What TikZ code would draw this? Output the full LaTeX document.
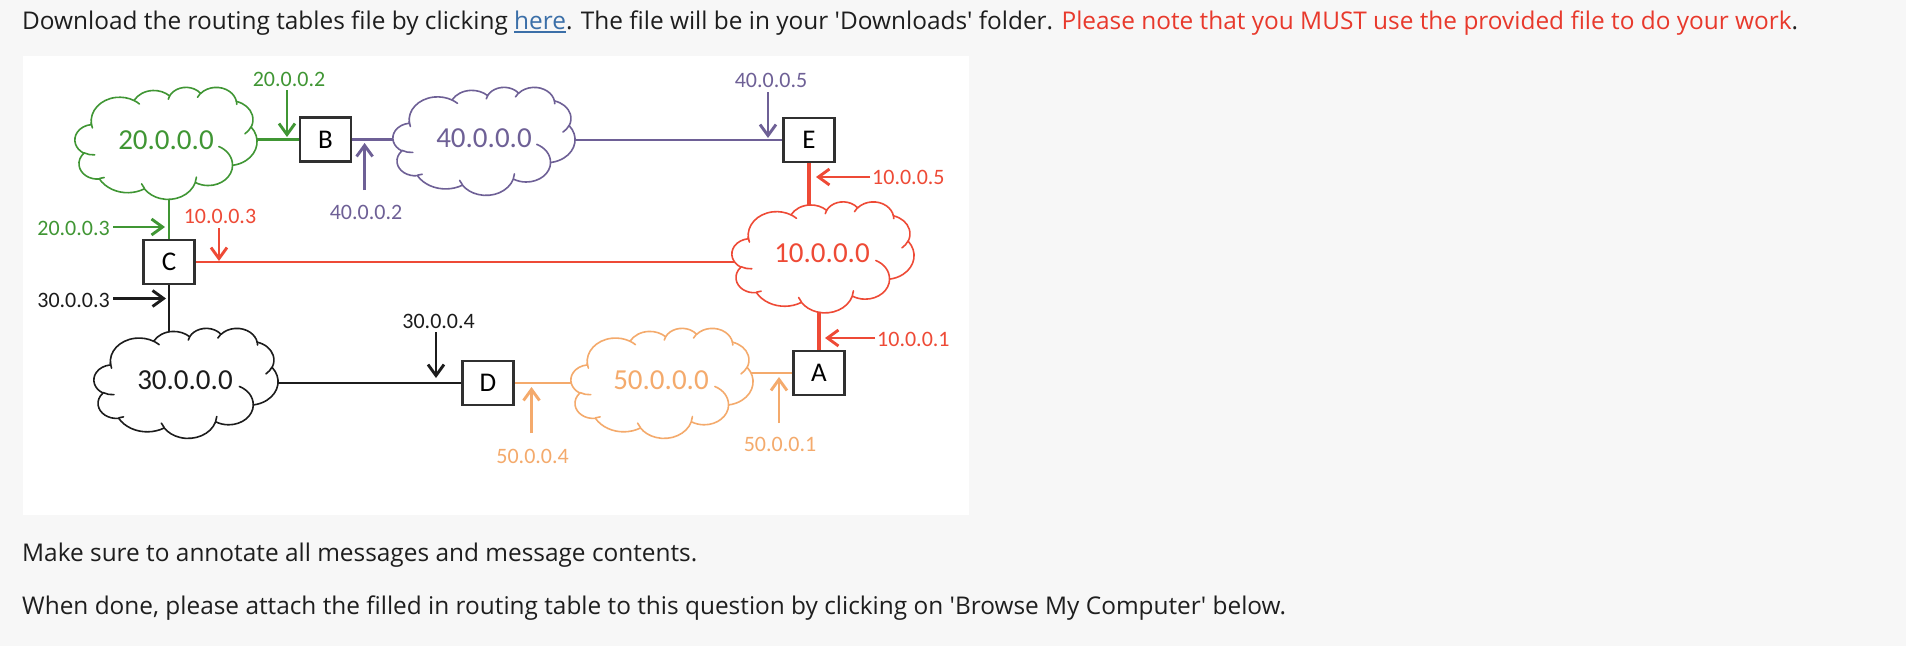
\documentclass[tikz,border=0pt]{standalone}
\usepackage{fontspec}
\usetikzlibrary{arrows.meta}
\newfontfamily\uifont{Open Sans}
\newfontfamily\dgfont{Carlito}
\definecolor{pagebg}{HTML}{F7F7F7}
\definecolor{uitext}{HTML}{1E1E1E}
\definecolor{uilink}{HTML}{3B6FA8}
\definecolor{uiwarn}{HTML}{E8392C}
\definecolor{netgreen}{RGB}{64,150,52}
\definecolor{netpurple}{RGB}{110,96,150}
\definecolor{netred}{RGB}{238,74,54}
\definecolor{netorange}{RGB}{244,170,108}
\definecolor{netblack}{RGB}{28,28,28}
\definecolor{boxline}{RGB}{48,48,48}

\newcommand{\ulword}[1]{\setbox0=\hbox{#1}\rlap{\rule[-3.5pt]{\wd0}{1.4pt}}#1}

\newcommand{\officecloud}[5]{%
  \pgfmathsetmacro\ocxu{#3/43.2}%
  \pgfmathsetmacro\ocyu{#4/43.2}%
  \begin{scope}[shift={(#1,#2)}, x=\ocxu pt, y=-\ocyu pt, shift={(-21.6,-21.6)}]
    \filldraw[draw=#5, fill=white, line width=1.6pt, line join=round]
      (3.900,14.370)
      \foreach \wr/\hr/\st/\sw in {
        6.753/9.190/-190.4875/123.7805,
        5.333/7.267/-144.1024/89.9452,
        4.365/5.945/-145.8079/99.7230,
        4.857/6.595/-130.9861/117.2417,
        5.333/7.273/-78.7089/109.0269,
        6.775/9.220/-46.2673/130.2690,
        5.785/7.867/0.6250/114.0333,
        6.752/9.215/22.4516/115.1726,
        7.720/10.543/66.2426/75.7110,
        4.360/5.918/-274.9421/146.7356,
        4.345/5.945/-246.8285/152.5189}
      { arc[x radius=\wr, y radius=\hr,
            start angle={atan2(\wr*sin(\st),\hr*cos(\st))},
            delta angle={mod(atan2(\wr*sin(\st+\sw),\hr*cos(\st+\sw))-atan2(\wr*sin(\st),\hr*cos(\st))+720,360)}] }
      -- cycle;
    \draw[#5, line width=1.6pt, line cap=round]
      \foreach \px/\py/\wr/\hr/\st/\sw in {
        4.693/26.177/4.345/5.945/86.742/26.4295,
        6.928/34.899/4.360/5.918/73.6105/11.4475,
        16.478/39.090/6.752/9.215/137.6242/14.0811,
        28.827/34.751/6.752/9.215/6.4533/15.9984,
        34.129/22.954/5.785/7.867/-70.2924/70.9174,
        41.798/15.354/5.333/7.273/30.3180/27.7515,
        38.324/5.426/4.857/6.595/-13.7443/14.8589,
        29.078/3.952/4.857/6.595/-149.1815/18.1954,
        22.141/4.720/4.365/5.945/-163.4943/17.6864,
        14.000/5.192/6.753/9.190/-66.7070/12.3194,
        4.127/15.789/6.753/9.190/155.6472/17.4260}
      { (\px,\py) arc[x radius=\wr, y radius=\hr,
            start angle={atan2(\wr*sin(\st),\hr*cos(\st))},
            delta angle={mod(atan2(\wr*sin(\st+\sw),\hr*cos(\st+\sw))-atan2(\wr*sin(\st),\hr*cos(\st))+720,360)}] };
  \end{scope}}

\tikzset{
  uitxt/.style={anchor=base west, inner sep=0pt, text=uitext,
    font=\uifont\fontsize{24.4}{29}\selectfont},
  lbl/.style={inner sep=0pt, font=\dgfont\fontsize{22}{24}\selectfont},
  cloudlbl/.style={inner sep=0pt, font=\dgfont\fontsize{29}{32}\selectfont},
  router/.style={draw=boxline, line width=2.6pt, fill=white, minimum width=51pt,
    minimum height=44pt, inner sep=0pt, text=black,
    font=\dgfont\fontsize{27}{29}\selectfont},
  netlink/.style={line width=2.2pt},
  tagarrow/.style={line width=2.9pt, -{Straight Barb[length=11pt,width=16pt]}},
}

\begin{document}
\begin{tikzpicture}[x=1pt, y=-1pt]
\useasboundingbox (0,0) rectangle (1906,646);
\fill[pagebg] (0,0) rectangle (1906,646);
\fill[white] (23,56) rectangle (969,515);

% page text
\node[uitxt] (hdr) at (22,29) {Download the routing tables file by clicking \textcolor{uilink}{\ulword{here}}. The file will be in your \textquotesingle Downloads\textquotesingle\ folder. \textcolor{uiwarn}{Please note that you MUST use the provided file to do your work}.};
\node[uitxt] (note1) at (22,561) {Make sure to annotate all messages and message contents.};
\node[uitxt] (note2) at (22,614) {When done, please attach the filled in routing table to this question by clicking on \textquotesingle Browse My Computer\textquotesingle\ below.};

% cloud centres
\coordinate (n20) at (166,143);
\coordinate (n40) at (484,141);
\coordinate (n10) at (823,257);
\coordinate (n30) at (186,383);
\coordinate (n50) at (662,383);

% routers
\node[router] (B) at (325.5,139.5) {B};
\node[router] (C) at (169,262) {C};
\node[router] (E) at (809,140) {E};
\node[router] (D) at (488,383) {D};
\node[router] (A) at (819,373) {A};

% links
\draw[netlink, netgreen] (B.west) -- (B.west -| n20);
\draw[netlink, netgreen] (C.north) -- (C.north |- n20);
\draw[netlink, netpurple] (B.east) -- (B.east -| n40);
\draw[netlink, netpurple] (E.west) -- (E.west -| n40);
\draw[netlink, netred] (C.east) -- (C.east -| n10);
\draw[netlink, netred, line width=3.2pt] (E.south) -- (E.south |- n10);
\draw[netlink, netred, line width=3.2pt] (A.north) -- (A.north |- n10);
\draw[netlink, netblack] (C.south) -- (C.south |- n30);
\draw[netlink, netblack] (D.west) -- (D.west -| n30);
\draw[netlink, netorange] (D.east) -- (D.east -| n50);
\draw[netlink, netorange] (A.west) -- (A.west -| n50);

% clouds
\officecloud{166}{143}{182}{112}{netgreen}
\officecloud{484}{141}{182}{108}{netpurple}
\officecloud{823}{257}{182}{111}{netred}
\officecloud{186}{383}{184}{110}{netblack}
\officecloud{662}{383}{182}{110}{netorange}

\node[cloudlbl, text=netgreen] (t20) at (166,140) {20.0.0.0};
\node[cloudlbl, text=netpurple] (t40) at (484,138) {40.0.0.0};
\node[cloudlbl, text=netred] (t10) at (822,253) {10.0.0.0};
\node[cloudlbl, text=netblack] (t30) at (185,380) {30.0.0.0};
\node[cloudlbl, text=netorange] (t50) at (661,380) {50.0.0.0};

% interface labels
\node[lbl, text=netgreen] (l20002) at (289,79) {20.0.0.2};
\node[lbl, text=netpurple] (l40002) at (366,212.7) {40.0.0.2};
\node[lbl, text=netpurple] (l40005) at (771,80) {40.0.0.5};
\node[lbl, text=netred, anchor=west] (l10005) at (872,177.7) {10.0.0.5};
\node[lbl, text=netred] (l10003) at (220,216.7) {10.0.0.3};
\node[lbl, text=netgreen, anchor=east] (l20003) at (110,228.5) {20.0.0.3};
\node[lbl, text=netblack, anchor=east] (l30003) at (110,300) {30.0.0.3};
\node[lbl, text=netblack] (l30004) at (438.6,321.7) {30.0.0.4};
\node[lbl, text=netorange] (l50004) at (532.6,456.5) {50.0.0.4};
\node[lbl, text=netorange] (l50001) at (780,444.3) {50.0.0.1};
\node[lbl, text=netred, anchor=west] (l10001) at (877,339.3) {10.0.0.1};

% arrow ends
\coordinate (s1) at (287,90);    \coordinate (e1) at (287,137);
\coordinate (s2) at (364.6,190); \coordinate (e2) at (364.6,143);
\coordinate (s3) at (768,92);    \coordinate (e3) at (768,138);
\coordinate (s4) at (870,177);   \coordinate (e4) at (816,177);
\coordinate (s5) at (219,228);   \coordinate (e5) at (219,261);
\coordinate (s6) at (113,227);   \coordinate (e6) at (165,227);
\coordinate (s7) at (113,298.5); \coordinate (e7) at (166,298.5);
\coordinate (s8) at (436,332);   \coordinate (e8) at (436,378);
\coordinate (s9) at (531.5,433); \coordinate (e9) at (531.5,387);
\coordinate (s10) at (779,423);  \coordinate (e10) at (779,377);
\coordinate (s11) at (875,338);  \coordinate (e11) at (825,338);

\draw[tagarrow, netgreen] (s1) -- (e1);
\draw[tagarrow, netpurple] (s2) -- (e2);
\draw[tagarrow, netpurple] (s3) -- (e3);
\draw[tagarrow, netred] (s4) -- (e4);
\draw[tagarrow, netred] (s5) -- (e5);
\draw[tagarrow, netgreen] (s6) -- (e6);
\draw[tagarrow, netblack] (s7) -- (e7);
\draw[tagarrow, netblack] (s8) -- (e8);
\draw[tagarrow, netorange] (s9) -- (e9);
\draw[tagarrow, netorange] (s10) -- (e10);
\draw[tagarrow, netred] (s11) -- (e11);
\end{tikzpicture}
\end{document}
